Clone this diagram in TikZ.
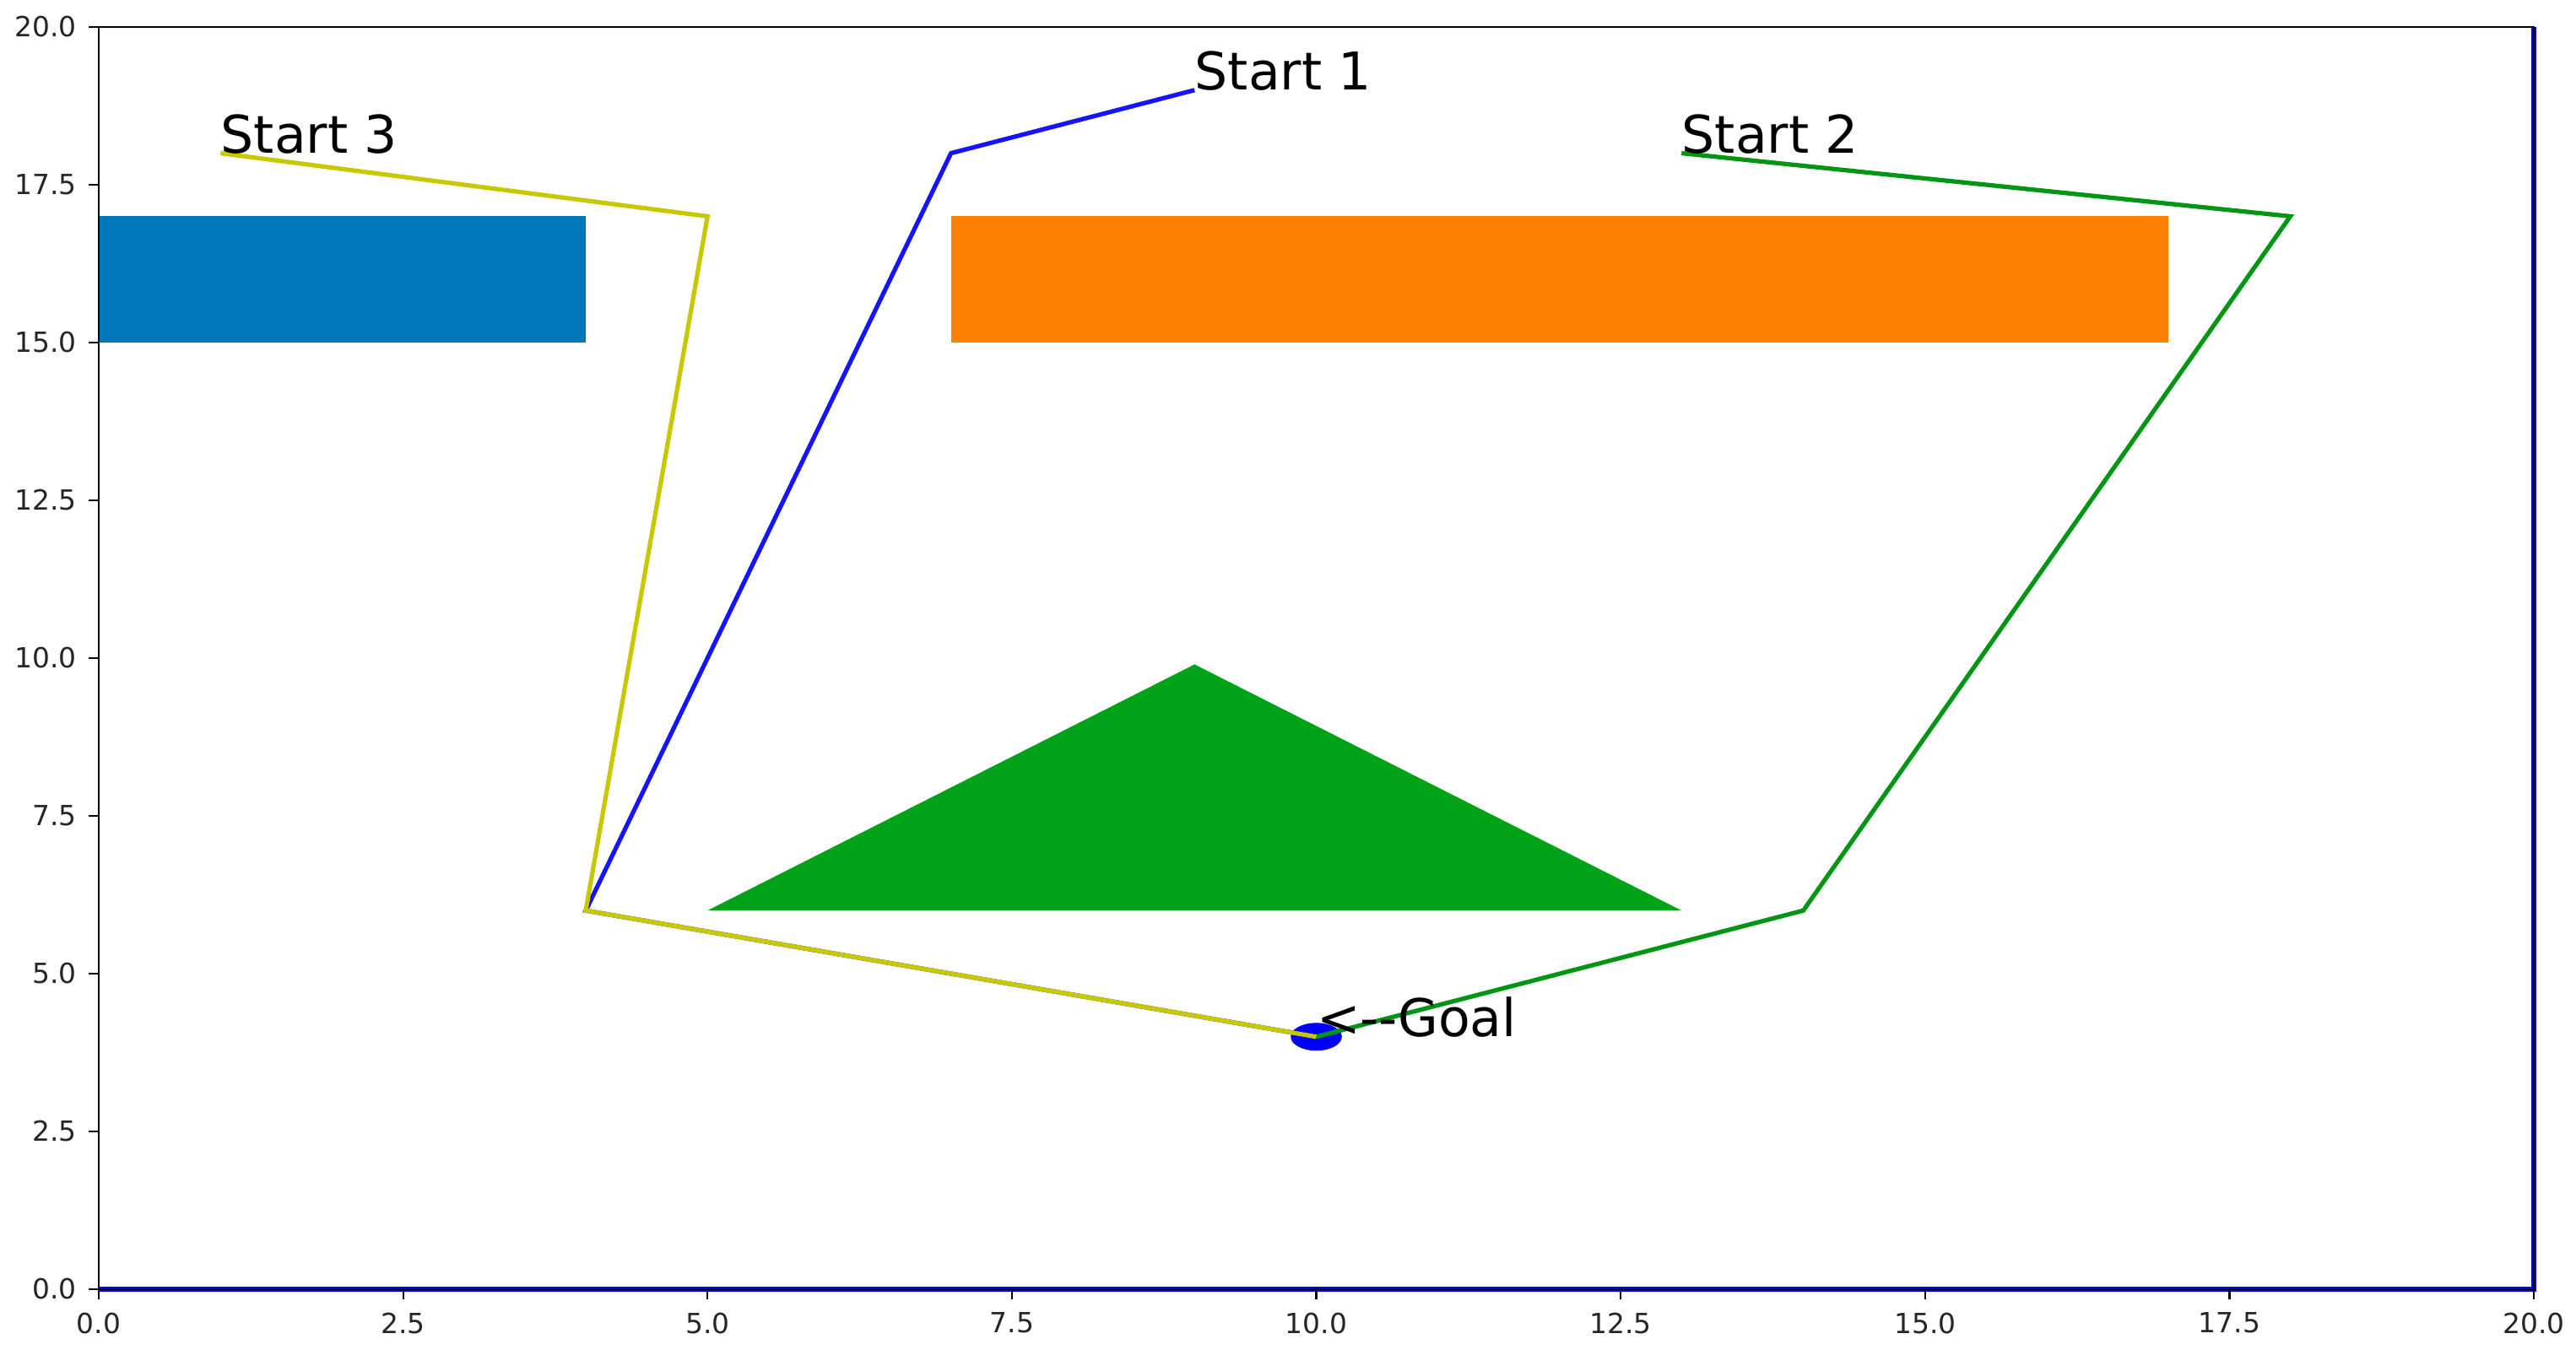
\documentclass[tikz,border=0pt]{standalone}
\usepackage{fontspec}
\setmainfont{DejaVu Sans}
\definecolor{obsblue}{RGB}{0,119,187}
\definecolor{obsorange}{RGB}{255,128,0}
\definecolor{obsgreen}{RGB}{0,162,24}
\definecolor{pathblue}{RGB}{20,20,255}
\definecolor{pathgreen}{RGB}{0,150,20}
\definecolor{pathyellow}{RGB}{200,200,0}
\begin{document}
\begin{tikzpicture}[x=52.651pt,y=27.302pt,
  route/.style={line width=1.9pt, line join=miter},
  startlabel/.style={anchor=base west, inner sep=0pt, font=\fontsize{22.5}{26}\selectfont},
  ticklbl/.style={inner sep=0pt, font=\fontsize{12}{14}\selectfont, text=black!85},
  spine/.style={line width=0.8pt, black}]
\useasboundingbox (-0.8111,-1.2032) rectangle (20.3466,20.4278);
\fill[white] (-0.8111,-1.2032) rectangle (20.3466,20.4278);
% obstacles
\fill[obsblue] (0,15) rectangle (4,17);
\fill[obsorange] (7,15) rectangle (17,17);
\fill[obsgreen] (5,6) -- (9,9.9) -- (13,6) -- cycle;
% goal marker
\coordinate (goal) at (10,4);
\fill[blue] (goal) ellipse [x radius=0.21, y radius=0.22];
% path points
\coordinate (s1) at (9,19);
\coordinate (s2) at (13,18);
\coordinate (s3) at (1,18);
\coordinate (a1) at (7,18);
\coordinate (a2) at (18,17);
\coordinate (a3) at (5,17);
\coordinate (w) at (4,6);
\coordinate (b2) at (14,6);
% routes
\draw[route, pathblue] (s1) -- (a1) -- (w) -- (goal);
\draw[route, pathgreen] (s2) -- (a2) -- (b2) -- (goal);
\draw[route, pathyellow] (s3) -- (a3) -- (w) -- (goal);
% border lines
\draw[line width=1.9pt, blue] (0,0) -- (20,0) -- (20,20);
% labels
\node[startlabel] (l1) at (s1) {Start 1};
\node[startlabel] (l2) at (s2) {Start 2};
\node[startlabel] (l3) at (s3) {Start 3};
\node[startlabel] (lg) at (goal) {<\mbox{-}\mbox{-}Goal};
% axes
\draw[spine] (0,0) rectangle (20,20);
\foreach \v/\t in {0/0.0,2.5/2.5,5/5.0,7.5/7.5,10/10.0,12.5/12.5,15/15.0,17.5/17.5,20/20.0}{
  \draw[spine] (\v,0) -- ++(0,-4.4pt);
  \node[ticklbl, anchor=north] (xt\v) at ([yshift=-10pt]\v,0) {\t};
  \draw[spine] (0,\v) -- ++(-4.4pt,0);
  \node[ticklbl, anchor=east] (yt\v) at ([xshift=-9.5pt]0,\v) {\t};
}
\end{tikzpicture}
\end{document}
